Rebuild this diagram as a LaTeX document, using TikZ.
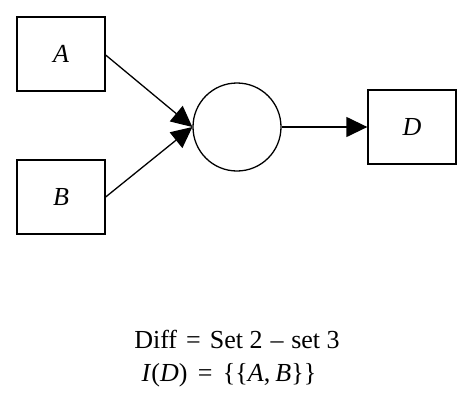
\documentclass[tikz,border=0pt]{standalone}
\usepackage{fontspec}
\setmainfont{Liberation Serif}
\usetikzlibrary{arrows.meta}
\begin{document}
\begin{tikzpicture}[x=1pt,y=-1pt,
  box/.style={draw,line width=1.3pt,minimum width=88pt,minimum height=74pt,inner sep=0pt,font=\fontsize{26}{30}\selectfont\itshape},
  hub/.style={draw,circle,line width=1.3pt,minimum size=88pt,inner sep=0pt},
  conn/.style={line width=1.3pt,-{Triangle[length=21pt,width=20pt]}},
  lbl/.style={font=\fontsize{26}{30}\selectfont,inner sep=0pt,anchor=base}]
\useasboundingbox (0,0) rectangle (474,413);
\node[box] (A) at (61,54) {A};
\node[box] (B) at (61,197) {B};
\node[hub] (C) at (237,127) {};
\node[box] (D) at (412,127) {D};
\draw[conn] (A.east |- 0,55) coordinate (a1) -- (C.west);
\draw[conn] (B.east |- 0,197) coordinate (b1) -- (C.west);
\draw[conn] (C.east) -- (D.west);
\node[lbl] (t1) at (237,348) {Diff\hspace{0.35em}=\hspace{0.35em}Set 2\hspace{0.3em}–\hspace{0.3em}set 3};
\node[lbl] (t2) at (229,381) {\textit{I}(\textit{D})\hspace{0.4em}=\hspace{0.4em}\{\{\textit{A},\hspace{0.2em}\textit{B}\}\}};
\end{tikzpicture}
\end{document}
